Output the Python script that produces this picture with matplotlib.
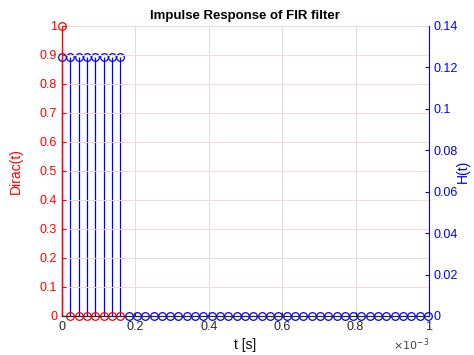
import numpy as np
import matplotlib.pyplot as plt
from matplotlib.ticker import FuncFormatter

plt.rcParams['font.family'] = ['Liberation Sans', 'DejaVu Sans']

fs = 44100  # sample rate [Hz]

# Dirac impulse (first 8 samples)
dirac_n = [0, 1, 2, 3, 4, 5, 6, 7]
dirac = [1, 0, 0, 0, 0, 0, 0, 0]

# FIR impulse response: 8-tap moving average, 45 samples shown
h_n = list(range(45))
h = [0.125, 0.125, 0.125, 0.125, 0.125, 0.125, 0.125, 0.125,
     0, 0, 0, 0, 0, 0, 0, 0, 0, 0, 0, 0, 0, 0, 0, 0, 0, 0, 0, 0, 0,
     0, 0, 0, 0, 0, 0, 0, 0, 0, 0, 0, 0, 0, 0, 0, 0]

t_dirac = np.array(dirac_n) / fs
t_h = np.array(h_n) / fs

fig = plt.figure(figsize=(4.74, 3.55), dpi=100)
ax1 = fig.add_axes([0.1308, 0.1099, 0.774, 0.8169])
ax2 = ax1.twinx()


def style_stem(parts):
    ml, sl, bl = parts
    ml.set_markerfacecolor('none')
    ml.set_markersize(5.5)
    ml.set_markeredgewidth(0.9)
    ml.set_clip_on(False)
    sl.set_linewidth(0.9)
    sl.set_clip_on(False)


# right axis: filter response
style_stem(ax2.stem(t_h, h, linefmt='b-', markerfmt='bo', basefmt=' '))
ax2.set_ylim(0, 0.14)
ax2.set_yticks(np.arange(0, 0.141, 0.02))
ax2.set_ylabel('H(t)', color='b', fontsize=10)
ax2.yaxis.set_label_coords(1.074, 0.5)

# left axis: dirac, drawn on top
style_stem(ax1.stem(t_dirac, dirac, linefmt='r-', markerfmt='ro', basefmt=' '))
ax1.set_ylim(0, 1)
ax1.set_yticks(np.arange(0, 1.01, 0.1))
ax1.set_ylabel('Dirac(t)', color='r', fontsize=10)
ax1.yaxis.set_label_coords(-0.106, 0.5)
ax1.set_xlim(0, 1e-3)
ax1.set_xticks(np.arange(0, 1.01e-3, 0.2e-3))
ax1.xaxis.set_major_formatter(FuncFormatter(lambda v, p: '%g' % round(v * 1e3, 6)))
ax1.yaxis.set_major_formatter(FuncFormatter(lambda v, p: '%g' % round(v, 6)))
ax2.yaxis.set_major_formatter(FuncFormatter(lambda v, p: '%g' % round(v, 6)))
ax1.set_xlabel('t [s]', fontsize=10, labelpad=4)
ax1.set_title('Impulse Response of FIR filter', fontsize=9.5, fontweight='bold', pad=5)
ax1.text(1.0, -0.1, r'$\times10^{-3}$', transform=ax1.transAxes, ha='right',
         va='center', fontsize=8, color='#404040')

ax1.set_zorder(ax2.get_zorder() + 1)
ax1.patch.set_visible(False)

ax1.grid(axis='x', color='#dcdcdc', linewidth=0.7)
ax1.grid(axis='y', color='#f6d8d8', linewidth=0.7)
ax1.set_axisbelow(True)

for ax in (ax1, ax2):
    ax.spines['top'].set_visible(False)
    ax.spines['bottom'].set_color('#262626')
ax1.spines['left'].set_color('r')
ax1.spines['right'].set_visible(False)
ax2.spines['left'].set_visible(False)
ax2.spines['right'].set_color('b')
ax1.tick_params(axis='y', colors='r', direction='in', labelsize=9, length=3)
ax1.tick_params(axis='x', colors='#262626', direction='in', labelsize=9, length=3)
ax2.tick_params(axis='y', colors='b', direction='in', labelsize=9, length=3)

fig.savefig('out.png', dpi=100)
